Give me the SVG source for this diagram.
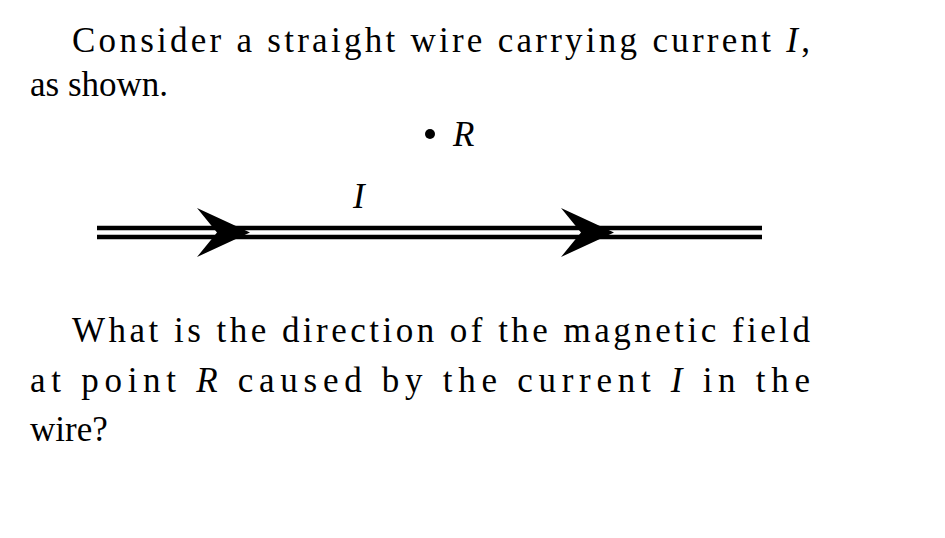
<svg xmlns="http://www.w3.org/2000/svg" width="945" height="538" viewBox="0 0 945 538">
<style>
text{font-family:"Liberation Serif","DejaVu Serif",serif;font-size:35px;fill:#000}
.i{font-style:italic}
.w{stroke:#000;stroke-width:4.5;fill:none}
</style>
<rect width="945" height="538" fill="#fff"/>
<text x="72" y="52" textLength="738" lengthAdjust="spacing">Consider a straight wire carrying current <tspan class="i">I</tspan>,</text>
<text x="30" y="96">as shown.</text>
<g id="pointR"><circle cx="430" cy="134" r="5" fill="#000"/><text class="i" x="453" y="146">R</text></g>
<g id="wire">
<line class="w" x1="97" y1="228" x2="762" y2="228"/>
<line class="w" x1="97" y1="237" x2="762" y2="237"/>
<text class="i" x="353" y="208">I</text>
</g>
<g id="connectors">
<path d="M197,208 L250,232.5 L197,257 L217,232.5 Z" fill="#000"/>
<path d="M561,208 L614,232.5 L561,257 L581,232.5 Z" fill="#000"/>
</g>
<text x="72" y="342" textLength="738" lengthAdjust="spacing">What is the direction of the magnetic field</text>
<text x="30" y="392" textLength="780" lengthAdjust="spacing">at point <tspan class="i">R</tspan> caused by the current <tspan class="i">I</tspan> in the</text>
<text x="30" y="441">wire?</text>
</svg>
